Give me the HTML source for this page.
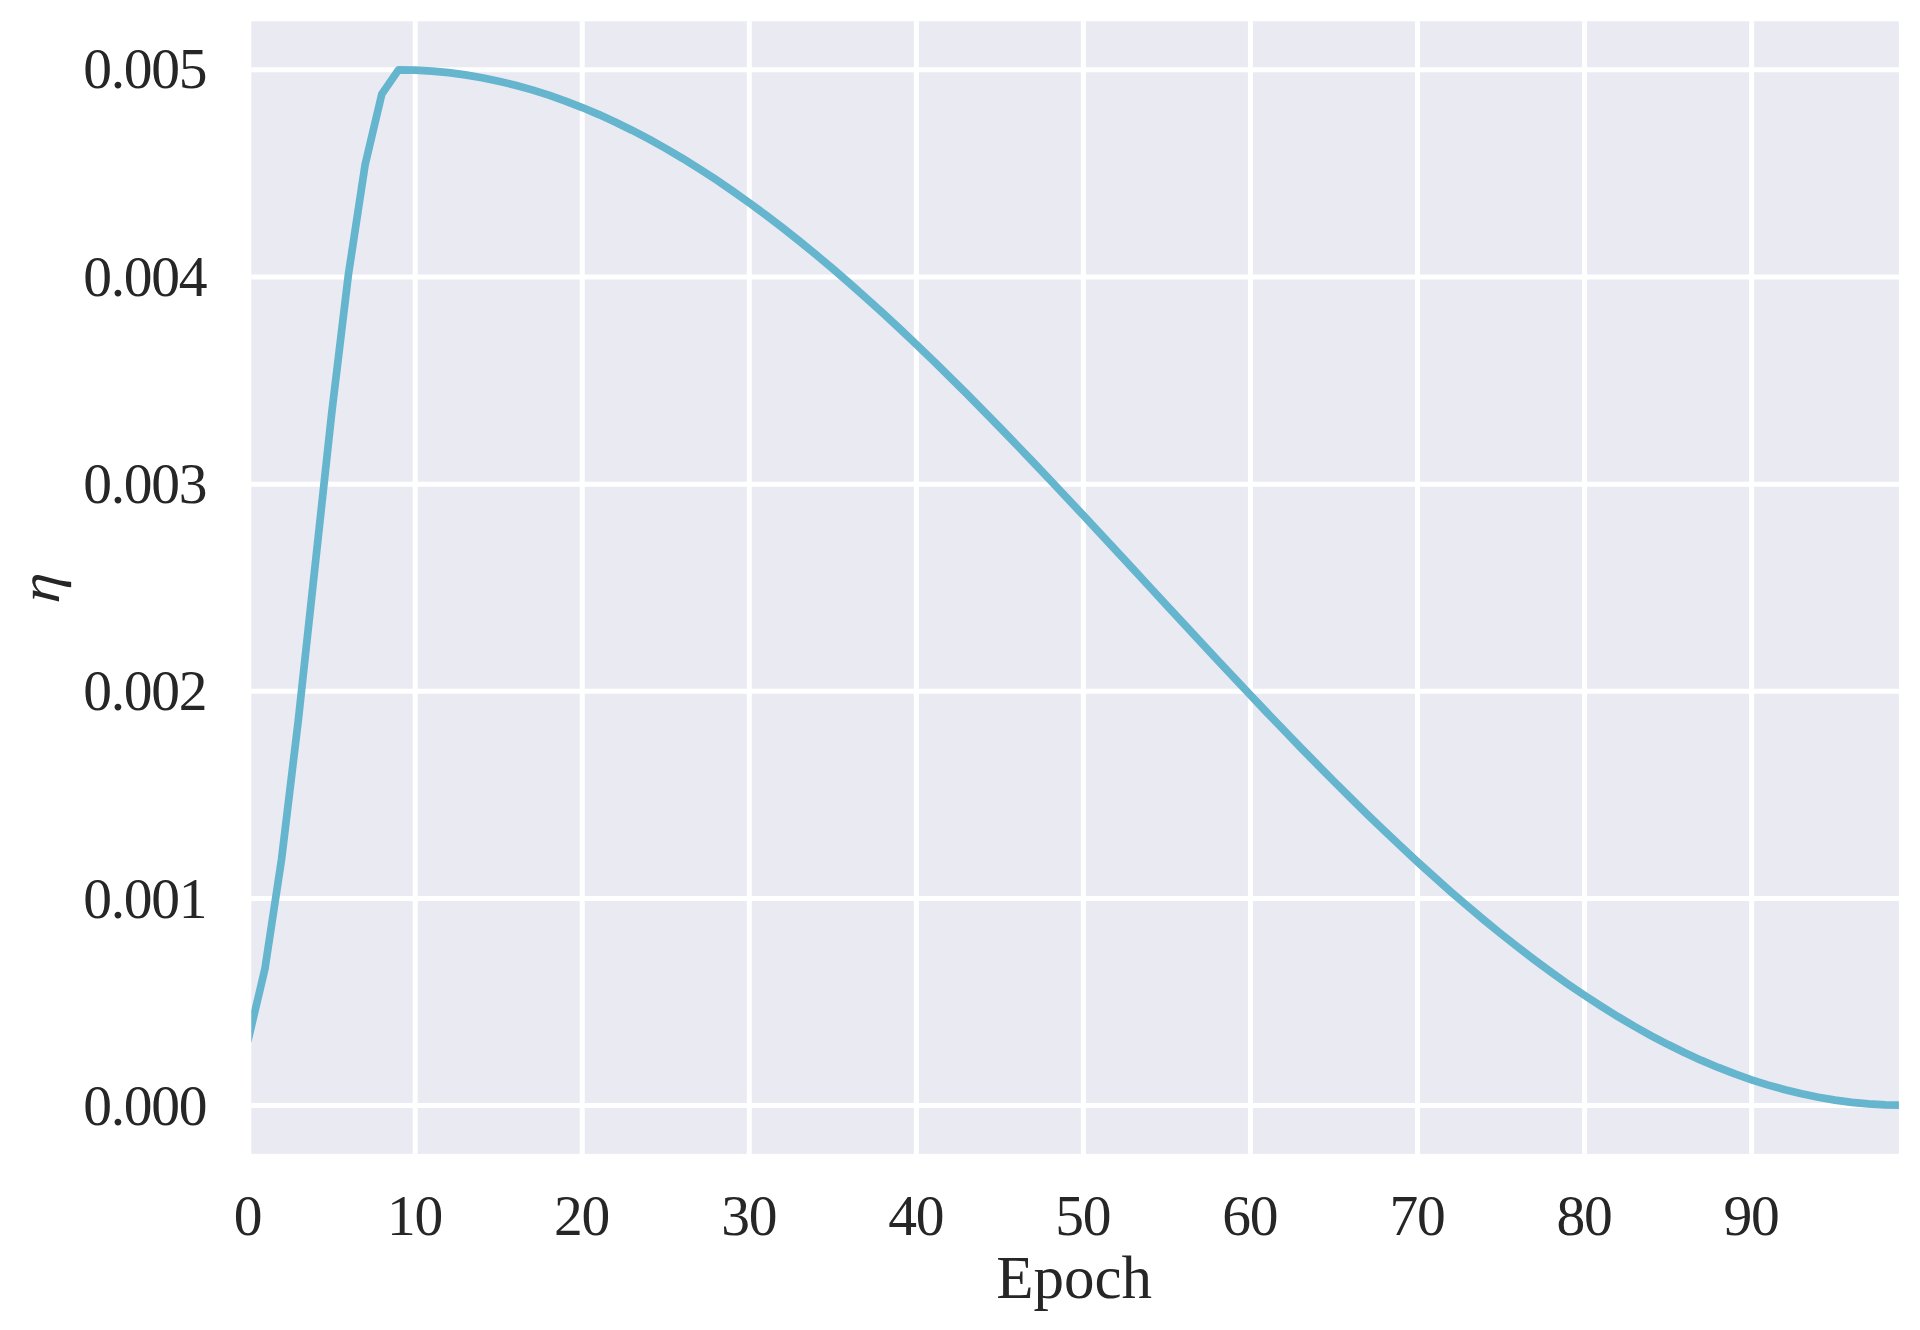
<!DOCTYPE html>
<html lang="en">
<head>
<meta charset="utf-8">
<title>Learning rate schedule</title>
<style>
  html, body { margin: 0; padding: 0; background: #ffffff; }
  body { position: relative; width: 1920px; height: 1330px; overflow: hidden; font-family: "Liberation Serif", serif; }
  svg { position: absolute; left: 0; top: 0; display: block; }
  svg text { font-family: "Liberation Serif", serif; fill: #262626; }
  .tick text { font-size: 57.5px; letter-spacing: -1.25px; }
  .xlabel { font-size: 61px; }
  .ylabel { font-size: 60px; font-style: italic; }
</style>
</head>
<body>
<svg width="1920" height="1330" viewBox="0 0 1920 1330">
  <defs>
    <clipPath id="ax"><rect x="251.3" y="21.3" width="1647.60" height="1132.60"/></clipPath>
  </defs>
  <rect x="0" y="0" width="1920" height="1330" fill="#ffffff"/>
  <!-- axes background -->
  <rect x="251.3" y="21.3" width="1647.60" height="1132.60" fill="#eaeaf2"/>
  <!-- grid -->
  <g stroke="#ffffff" stroke-width="5.0" stroke-linecap="butt">
    <line x1="415.20" y1="21.3" x2="415.20" y2="1153.9"/>
    <line x1="582.25" y1="21.3" x2="582.25" y2="1153.9"/>
    <line x1="749.30" y1="21.3" x2="749.30" y2="1153.9"/>
    <line x1="916.35" y1="21.3" x2="916.35" y2="1153.9"/>
    <line x1="1083.40" y1="21.3" x2="1083.40" y2="1153.9"/>
    <line x1="1250.45" y1="21.3" x2="1250.45" y2="1153.9"/>
    <line x1="1417.50" y1="21.3" x2="1417.50" y2="1153.9"/>
    <line x1="1584.55" y1="21.3" x2="1584.55" y2="1153.9"/>
    <line x1="1751.60" y1="21.3" x2="1751.60" y2="1153.9"/>
    <line x1="251.3" y1="1105.60" x2="1898.9" y2="1105.60"/>
    <line x1="251.3" y1="898.45" x2="1898.9" y2="898.45"/>
    <line x1="251.3" y1="691.30" x2="1898.9" y2="691.30"/>
    <line x1="251.3" y1="484.15" x2="1898.9" y2="484.15"/>
    <line x1="251.3" y1="277.00" x2="1898.9" y2="277.00"/>
    <line x1="251.3" y1="69.85" x2="1898.9" y2="69.85"/>
  </g>
  <!-- learning-rate curve -->
  <g clip-path="url(#ax)">
    <polyline fill="none" stroke="#64b5cd" stroke-width="7.7" stroke-linejoin="round" stroke-linecap="round" points="248.15,1039.84 264.86,969.22 281.56,859.23 298.26,720.64 314.97,567.01 331.68,413.38 348.38,274.79 365.08,164.80 381.79,94.18 398.50,69.85 415.20,70.17 431.90,71.11 448.61,72.69 465.31,74.89 482.02,77.71 498.73,81.16 515.43,85.23 532.13,89.90 548.84,95.19 565.54,101.07 582.25,107.54 598.95,114.60 615.66,122.24 632.37,130.44 649.07,139.20 665.77,148.51 682.48,158.35 699.18,168.71 715.89,179.59 732.59,190.96 749.30,202.81 766.00,215.13 782.71,227.91 799.41,241.12 816.12,254.76 832.82,268.80 849.53,283.23 866.23,298.03 882.94,313.19 899.64,328.67 916.35,344.48 933.05,360.58 949.76,376.95 966.46,393.58 983.17,410.45 999.87,427.54 1016.58,444.81 1033.28,462.27 1049.99,479.87 1066.69,497.61 1083.40,515.45 1100.11,533.39 1116.81,551.39 1133.51,569.43 1150.22,587.50 1166.92,605.56 1183.63,623.61 1200.34,641.61 1217.04,659.54 1233.74,677.39 1250.45,695.12 1267.15,712.73 1283.86,730.18 1300.57,747.46 1317.27,764.54 1333.97,781.41 1350.68,798.04 1367.38,814.42 1384.09,830.52 1400.80,846.32 1417.50,861.81 1434.20,876.96 1450.91,891.76 1467.62,906.19 1484.32,920.23 1501.02,933.87 1517.73,947.09 1534.43,959.86 1551.14,972.18 1567.85,984.04 1584.55,995.41 1601.25,1006.28 1617.96,1016.65 1634.66,1026.49 1651.37,1035.79 1668.08,1044.55 1684.78,1052.76 1701.48,1060.39 1718.19,1067.45 1734.89,1073.93 1751.60,1079.81 1768.30,1085.09 1785.01,1089.77 1801.71,1093.83 1818.42,1097.28 1835.12,1100.11 1851.83,1102.31 1868.53,1103.88 1885.24,1104.83 1901.94,1105.14"/>
  </g>
  <!-- x tick labels -->
  <g class="tick">
    <text x="247.53" y="1234.6" text-anchor="middle">0</text>
    <text x="414.57" y="1234.6" text-anchor="middle">10</text>
    <text x="581.62" y="1234.6" text-anchor="middle">20</text>
    <text x="748.67" y="1234.6" text-anchor="middle">30</text>
    <text x="915.72" y="1234.6" text-anchor="middle">40</text>
    <text x="1082.77" y="1234.6" text-anchor="middle">50</text>
    <text x="1249.83" y="1234.6" text-anchor="middle">60</text>
    <text x="1416.88" y="1234.6" text-anchor="middle">70</text>
    <text x="1583.92" y="1234.6" text-anchor="middle">80</text>
    <text x="1750.97" y="1234.6" text-anchor="middle">90</text>
  </g>
  <!-- y tick labels -->
  <g class="tick">
    <text x="206.25" y="88.45" text-anchor="end">0.005</text>
    <text x="206.25" y="295.70" text-anchor="end">0.004</text>
    <text x="206.25" y="502.95" text-anchor="end">0.003</text>
    <text x="206.25" y="710.40" text-anchor="end">0.002</text>
    <text x="206.25" y="917.85" text-anchor="end">0.001</text>
    <text x="206.25" y="1125.00" text-anchor="end">0.000</text>
  </g>
  <!-- axis labels -->
  <text class="xlabel" x="1074.2" y="1298.3" text-anchor="middle">Epoch</text>
  <text class="ylabel" transform="translate(58.7,588.8) rotate(-90) skewX(-4) scale(1,0.95)" text-anchor="middle">&#951;</text>
</svg>
</body>
</html>
